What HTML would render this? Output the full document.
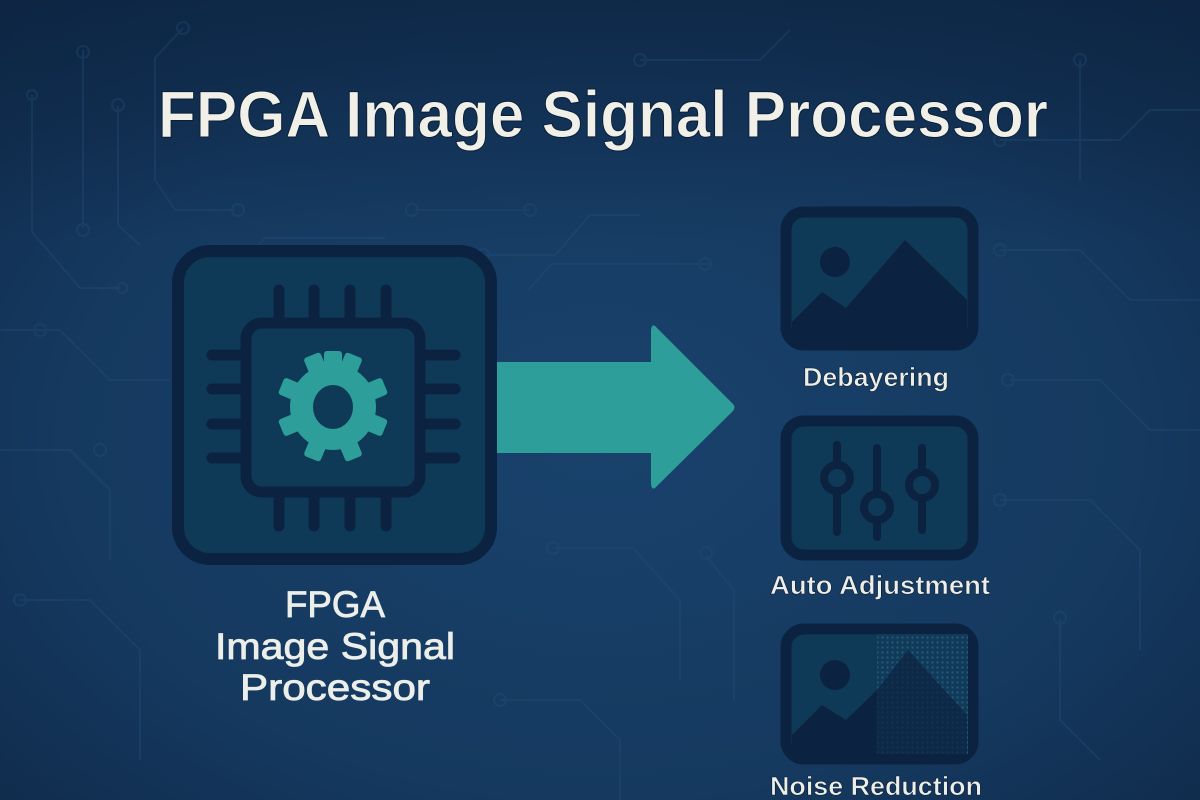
<!DOCTYPE html>
<html><head><meta charset="utf-8"><style>
html,body{margin:0;padding:0;width:1200px;height:800px;overflow:hidden;background:#153558}
</style></head><body>
<svg width="1200" height="800" viewBox="0 0 1200 800" xmlns="http://www.w3.org/2000/svg">
<defs>
<radialGradient id="bg" cx="50%" cy="55%" r="75%">
<stop offset="0" stop-color="#19426c"/><stop offset="0.6" stop-color="#15395f"/><stop offset="1" stop-color="#0e2847"/>
</radialGradient>
<linearGradient id="top" x1="0" y1="0" x2="0" y2="1">
<stop offset="0" stop-color="#0d2442" stop-opacity="0.7"/><stop offset="0.3" stop-color="#0d2442" stop-opacity="0"/>
</linearGradient>
<pattern id="dots" width="5" height="5" patternUnits="userSpaceOnUse">
<rect width="5" height="5" fill="#113a58"/><circle cx="2.5" cy="2.5" r="1.2" fill="#1f5878"/>
</pattern>
</defs>
<rect width="1200" height="800" fill="url(#bg)"/>
<rect width="1200" height="800" fill="url(#top)"/>
<g fill="none" stroke="#24507a" stroke-width="2" opacity="0.35">
<path d="M183 28 L155 58 V180 L175 210 H235"/><circle cx="183" cy="28" r="6"/><circle cx="238" cy="210" r="6"/>
<path d="M83 50 V228"/><circle cx="83" cy="52" r="6"/><circle cx="83" cy="230" r="6"/>
<path d="M32 95 V232 L80 288 H120"/><circle cx="32" cy="95" r="5"/><circle cx="122" cy="288" r="5"/>
<path d="M118 106 V225 L140 245"/><circle cx="118" cy="105" r="6"/>
<path d="M240 265 L265 238 H385"/>
<path d="M415 210 H530"/><circle cx="412" cy="210" r="6"/><circle cx="530" cy="210" r="6"/>
<path d="M485 255 H555 L590 215 H640"/><circle cx="483" cy="255" r="6"/>
<path d="M528 290 L552 264 H710"/><circle cx="705" cy="264" r="6"/>
<path d="M555 548 H633 L680 600 V680"/><circle cx="553" cy="548" r="6"/>
<path d="M706 556 L734 590 V700"/><circle cx="706" cy="553" r="6"/>
<path d="M1000 140 H1120 L1150 110 H1200"/><circle cx="1000" cy="140" r="6"/>
<path d="M1000 250 H1080 L1130 300 H1200"/><circle cx="1000" cy="250" r="6"/>
<path d="M1010 380 H1100 L1150 430 H1200"/><circle cx="1008" cy="380" r="6"/>
<path d="M1000 500 H1090 L1140 550 V650"/><circle cx="1000" cy="500" r="6"/>
<path d="M1060 620 V720 L1100 760"/><circle cx="1060" cy="618" r="6"/>
<path d="M0 330 H60 L110 380 H170"/><circle cx="40" cy="330" r="6"/>
<path d="M0 450 H70 L110 490 V560"/><circle cx="100" cy="450" r="6"/>
<path d="M20 600 H90 L140 650 V760"/><circle cx="20" cy="600" r="6"/>
<path d="M500 700 H580 L620 740 V800"/><circle cx="500" cy="700" r="6"/>
<path d="M640 60 H760 L790 30"/><circle cx="640" cy="60" r="6"/>
<path d="M1080 60 V180"/><circle cx="1080" cy="60" r="6"/>
</g>
<text x="603" y="137" text-anchor="middle" font-family="Liberation Sans, sans-serif" font-weight="bold" font-size="66" fill="#f0efe8" stroke="#0b1e36" stroke-width="1" textLength="890" lengthAdjust="spacingAndGlyphs">FPGA Image Signal Processor</text>

<!-- chip -->
<rect x="178" y="251" width="313" height="308" rx="32" fill="#0f3a57" stroke="#0b2240" stroke-width="12"/>
<g stroke="#0b2240" stroke-width="11" stroke-linecap="round">
<path d="M279 290V318M314 290V318M350 290V318M386 290V318"/>
<path d="M279 497V526M314 497V526M350 497V526M386 497V526"/>
<path d="M212 355H241M212 389H241M212 424H241M212 458H241"/>
<path d="M425 355H455M425 389H455M425 424H455M425 458H455"/>
</g>
<rect x="246" y="323" width="174" height="169" rx="16" fill="#0f3a57" stroke="#0b2240" stroke-width="11"/>
<g transform="translate(333,407)" fill="#2e9e9a">
<circle r="43"/>
<g id="t"><rect x="-9" y="-56" width="18" height="22" rx="3"/></g>
<use href="#t" transform="rotate(22.5)"/><use href="#t" transform="rotate(67.5)"/><use href="#t" transform="rotate(112.5)"/>
<use href="#t" transform="rotate(157.5)"/><use href="#t" transform="rotate(202.5)"/><use href="#t" transform="rotate(247.5)"/><use href="#t" transform="rotate(292.5)"/><use href="#t" transform="rotate(337.5)"/>
<ellipse rx="20" ry="22" fill="#0f3a57"/>
</g>
<!-- arrow -->
<path d="M497 362 H651 V330 Q652 322 657 328 L733 404 Q736 407 733 411 L657 486 Q652 492 651 484 V453 H497 Z" fill="#2e9e9a"/>
<g font-family="Liberation Sans, sans-serif" font-size="37" fill="#eceee9" text-anchor="middle" stroke="#eceee9" stroke-width="0.8">
<text x="335" y="617" textLength="100" lengthAdjust="spacingAndGlyphs">FPGA</text>
<text x="335" y="659" textLength="240" lengthAdjust="spacingAndGlyphs">Image Signal</text>
<text x="335" y="700" textLength="190" lengthAdjust="spacingAndGlyphs">Processor</text>
</g>

<!-- right icons -->
<g stroke="#0b2240" stroke-width="11" fill="#0f3a57">
<rect x="786" y="212" width="187" height="133" rx="18"/>
<rect x="786" y="421" width="187" height="134" rx="18"/>
<rect x="786" y="629" width="187" height="130" rx="18"/>
</g>
<g fill="#0b2240">
<circle cx="835" cy="262" r="15"/>
<path d="M792 322 L822 292 L846 308 L905 240 L967 300 V340 H792Z"/>
<circle cx="835" cy="675" r="15"/>
<path d="M792 735 L822 705 L846 720 L877 690 V755 H792Z"/>
</g>
<rect x="877" y="634" width="91" height="120" fill="url(#dots)"/>
<path d="M877 690 L908 650 L967 715 V755 H877Z" fill="#0b2240" opacity="0.7"/>
<g stroke="#0b2240" stroke-width="8" stroke-linecap="round" fill="none">
<path d="M837 445V532M877 448V537M922 448V530"/>
</g>
<g stroke="#0b2240" stroke-width="8" fill="#0f3a57">
<circle cx="837" cy="478" r="13"/><circle cx="877" cy="507" r="13"/><circle cx="922" cy="485" r="13"/>
</g>
<g font-family="Liberation Sans, sans-serif" font-weight="bold" font-size="26" fill="#eceee9" text-anchor="middle" stroke="#0b1e36" stroke-width="0.6">
<text x="876" y="386" textLength="146" lengthAdjust="spacingAndGlyphs">Debayering</text>
<text x="880" y="594" textLength="220" lengthAdjust="spacingAndGlyphs">Auto Adjustment</text>
<text x="876" y="795" textLength="212" lengthAdjust="spacingAndGlyphs">Noise Reduction</text>
</g>
</svg>
</body></html>
